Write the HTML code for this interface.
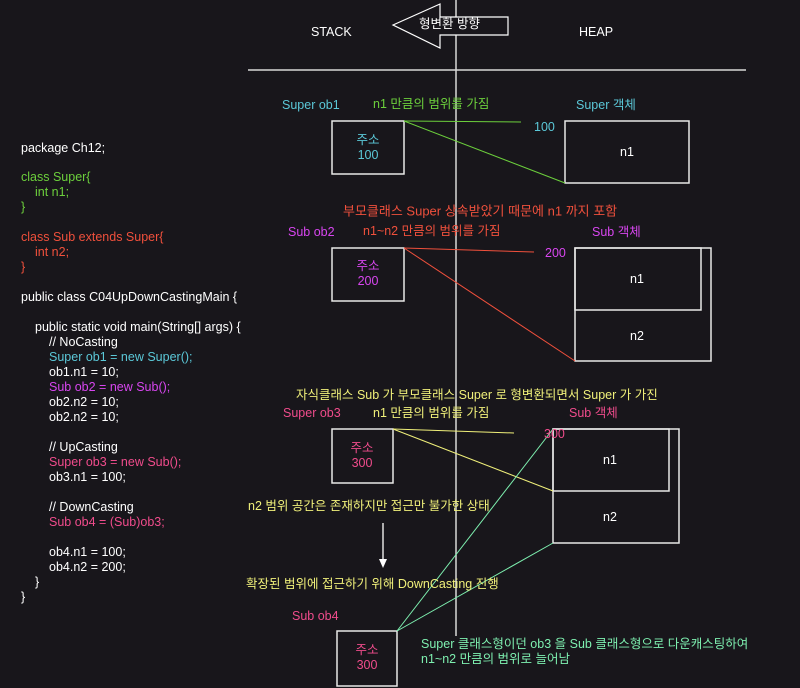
<!DOCTYPE html>
<html><head><meta charset="utf-8"><style>
body{margin:0;background:#18161b;}
svg{display:block;}
text{font-family:"Liberation Sans","Noto Sans CJK KR",sans-serif;font-size:12.5px;dominant-baseline:central;}
</style></head><body>
<svg width="800" height="688" viewBox="0 0 800 688" xmlns="http://www.w3.org/2000/svg">
<rect width="800" height="688" fill="#18161b"/>
<line x1="456" y1="0" x2="456" y2="636" stroke="#d8d8d8" stroke-width="1.5"/>
<line x1="248" y1="70" x2="746" y2="70" stroke="#d8d8d8" stroke-width="1.5"/>
<polygon points="393,25 440,4 440,17 508,17 508,35 440,35 440,48" fill="#18161b" stroke="#fff" stroke-width="1.2"/>
<text x="419" y="24" fill="#fff">형변환 방향</text>
<text x="311" y="32" fill="#fff">STACK</text>
<text x="579" y="32" fill="#fff">HEAP</text>

<g fill="#fff">
<text x="21" y="148">package Ch12;</text>
<text x="21" y="177" fill="#6ccf3c">class Super{</text>
<text x="35" y="192" fill="#6ccf3c">int n1;</text>
<text x="21" y="207" fill="#6ccf3c">}</text>
<text x="21" y="237" fill="#f0503c">class Sub extends Super{</text>
<text x="35" y="252" fill="#f0503c">int n2;</text>
<text x="21" y="267" fill="#f0503c">}</text>
<text x="21" y="297">public class C04UpDownCastingMain {</text>
<text x="35" y="327">public static void main(String[] args) {</text>
<text x="49" y="342">// NoCasting</text>
<text x="49" y="357" fill="#5bc8d8">Super ob1 = new Super();</text>
<text x="49" y="372">ob1.n1 = 10;</text>
<text x="49" y="387" fill="#d846f0">Sub ob2 = new Sub();</text>
<text x="49" y="402">ob2.n2 = 10;</text>
<text x="49" y="417">ob2.n2 = 10;</text>
<text x="49" y="447">// UpCasting</text>
<text x="49" y="462" fill="#f04c8c">Super ob3 = new Sub();</text>
<text x="49" y="477">ob3.n1 = 100;</text>
<text x="49" y="507">// DownCasting</text>
<text x="49" y="522" fill="#f04c8c">Sub ob4 = (Sub)ob3;</text>
<text x="49" y="552">ob4.n1 = 100;</text>
<text x="49" y="567">ob4.n2 = 200;</text>
<text x="35" y="582">}</text>
<text x="21" y="597">}</text>
</g>

<g fill="none" stroke="#e8e8e8" stroke-width="1.5">
<rect x="332" y="121" width="72" height="53"/>
<rect x="565" y="121" width="124" height="62"/>
<rect x="332" y="248" width="72" height="53"/>
<rect x="575" y="248" width="136" height="113"/>
<rect x="575" y="248" width="126" height="62"/>
<rect x="332" y="429" width="61" height="54"/>
<rect x="553" y="429" width="126" height="114"/>
<rect x="553" y="429" width="116" height="62"/>
<rect x="337" y="631" width="60" height="55"/>
</g>
<g fill="#fff" text-anchor="middle">
<text x="627" y="152">n1</text>
<text x="637" y="279">n1</text>
<text x="637" y="336">n2</text>
<text x="610" y="460">n1</text>
<text x="610" y="517">n2</text>
</g>

<line x1="404" y1="121" x2="521" y2="122" stroke="#6ccf3c"/>
<line x1="404" y1="121" x2="565" y2="183" stroke="#6ccf3c"/>
<line x1="404" y1="248" x2="534" y2="252" stroke="#f0503c"/>
<line x1="404" y1="248" x2="575" y2="361" stroke="#f0503c"/>
<line x1="393" y1="429" x2="514" y2="433" stroke="#f0f07a"/>
<line x1="393" y1="429" x2="553" y2="491" stroke="#f0f07a"/>
<line x1="397" y1="631" x2="553" y2="429" stroke="#7ef0b0"/>
<line x1="397" y1="631" x2="553" y2="543" stroke="#7ef0b0"/>

<text x="282" y="105" fill="#5bc8d8">Super ob1</text>
<text x="373" y="104" fill="#6ccf3c">n1 만큼의 범위를 가짐</text>
<text x="576" y="105" fill="#5bc8d8">Super 객체</text>
<text x="534" y="127" fill="#5bc8d8">100</text>
<text x="368" y="140" fill="#5bc8d8" text-anchor="middle">주소</text>
<text x="368" y="155" fill="#5bc8d8" text-anchor="middle">100</text>

<text x="343" y="211" fill="#f0503c" style="font-size:13px">부모클래스 Super 상속받았기 때문에 n1 까지 포함</text>
<text x="288" y="232" fill="#d846f0">Sub ob2</text>
<text x="363" y="231" fill="#f0503c">n1~n2 만큼의 범위를 가짐</text>
<text x="592" y="232" fill="#d846f0">Sub 객체</text>
<text x="545" y="253" fill="#d846f0">200</text>
<text x="368" y="266" fill="#d846f0" text-anchor="middle">주소</text>
<text x="368" y="281" fill="#d846f0" text-anchor="middle">200</text>

<text x="296" y="395" fill="#f0f07a">자식클래스 Sub 가 부모클래스 Super 로 형변환되면서 Super 가 가진</text>
<text x="283" y="413" fill="#f04c8c">Super ob3</text>
<text x="373" y="413" fill="#f0f07a">n1 만큼의 범위를 가짐</text>
<text x="569" y="413" fill="#f04c8c">Sub 객체</text>
<text x="544" y="434" fill="#f04c8c">300</text>
<text x="362" y="448" fill="#f04c8c" text-anchor="middle">주소</text>
<text x="362" y="463" fill="#f04c8c" text-anchor="middle">300</text>

<text x="248" y="506" fill="#f0f07a">n2 범위 공간은 존재하지만 접근만 불가한 상태</text>
<line x1="383" y1="523" x2="383" y2="562" stroke="#fff" stroke-width="1.3"/>
<polygon points="379,559 387,559 383,568" fill="#fff"/>
<text x="246" y="584" fill="#f0f07a">확장된 범위에 접근하기 위해 DownCasting 진행</text>
<text x="292" y="616" fill="#f04c8c">Sub ob4</text>
<text x="367" y="650" fill="#f04c8c" text-anchor="middle">주소</text>
<text x="367" y="665" fill="#f04c8c" text-anchor="middle">300</text>
<text x="421" y="644" fill="#7ef0b0">Super 클래스형이던 ob3 을 Sub 클래스형으로 다운캐스팅하여</text>
<text x="421" y="659" fill="#7ef0b0">n1~n2 만큼의 범위로 늘어남</text>
</svg>
</body></html>
